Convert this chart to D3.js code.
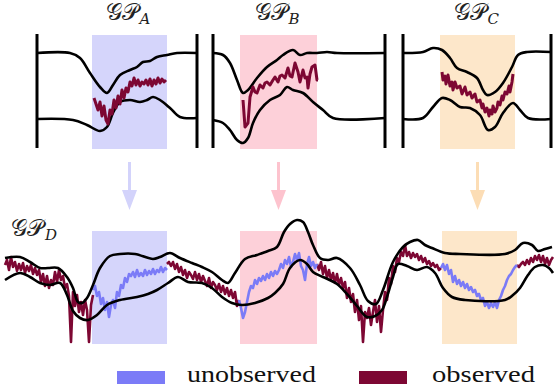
<!DOCTYPE html>
<html><head><meta charset="utf-8">
<script src="https://cdn.jsdelivr.net/npm/d3@7"></script>
<style>body{margin:0;background:#fff;overflow:hidden}</style></head>
<body><svg id="c" width="557" height="388"></svg>
<script>
// ---------- DATA ----------
// Top GP panels: [time, value] for upper/lower credible bands, observed sample
const gpAUpper = [[0,97],[33,97],[43,92],[53,77],[63,63],[70,57],[76,65],[83,75],[93,80],[100,83],[106,88],[113,89],[120,93],[130,95],[140,97],[160,97]];
const gpALower = [[0,31],[36,30],[50,25],[63,19],[70,23],[76,37],[83,48],[93,50],[103,48],[110,50],[116,53],[123,50],[133,42],[143,33],[160,32]];
const gpAObsStart = 57;
const gpAObs = [52,46,40,48,34,44,30,26,40,36,50,42,54,46,60,52,62,58,68,64,72,65,70,64,68,66,70,65,71,64,70,66,72,67,71,68,70];

const gpBUpper = [[0,97],[10,95],[17,87],[24,70],[30,57],[35,60],[44,72],[54,83],[64,90],[70,95],[80,100],[87,95],[94,97],[104,97],[114,98],[124,97],[172,97]];
const gpBLower = [[0,30],[10,27],[17,20],[24,10],[30,7],[35,12],[40,27],[47,40],[57,50],[67,55],[74,63],[80,60],[90,57],[100,48],[110,40],[120,32],[172,32]];
const gpBObs = [[30,50],[32,23],[35,27],[37,53],[40,63],[42,58],[44,57],[47,65],[50,62],[52,67],[54,68],[57,65],[60,70],[62,73],[65,68],[67,74],[69,75],[72,72],[75,82],[77,74],[79,73],[82,87],[85,78],[87,68],[90,80],[92,72],[94,73],[95,62],[97,76],[99,83],[102,85],[104,70],[105,70]];

const gpCUpper = [[0,97],[20,98],[30,102],[39,100],[47,92],[54,82],[64,78],[74,72],[80,60],[84,55],[92,58],[100,67],[109,83],[115,95],[124,98],[148,98]];
const gpCLower = [[0,31],[20,32],[30,43],[39,52],[47,50],[57,43],[67,42],[77,35],[85,20],[92,23],[100,37],[110,47],[117,40],[125,32],[148,31]];
const gpCObs = [[39,78],[40,70],[42,74],[43,66],[45,75],[47,64],[49,68],[50,60],[52,68],[54,62],[57,64],[59,56],[62,63],[64,55],[67,58],[69,52],[72,56],[74,48],[77,50],[79,42],[80,46],[82,38],[84,42],[86,34],[87,40],[89,36],[90,44],[92,38],[94,42],[95,48],[97,45],[99,54],[100,50],[102,58],[104,56],[106,64],[107,58],[109,68],[110,76]];

// Top panel windows (time) of missing data
const gpWindows = [[55,130],[27,104],[37,112]];

// Combined GP_D
const gpDUpper = [[0,42],[15,43],[25,38],[35,32],[43,32],[53,32],[62,23],[68,12],[73,-2],[77,-3],[82,2],[88,15],[95,32],[105,44],[115,46],[130,46],[148,41],[155,43],[165,47],[175,42],[187,37],[197,33],[207,28],[217,20],[223,17],[230,27],[240,41],[252,45],[263,49],[272,53],[279,68],[285,76],[292,80],[298,78],[303,68],[308,55],[315,42],[323,40],[332,42],[345,32],[355,15],[363,-1],[371,-4],[378,10],[388,38],[398,53],[405,58],[413,60],[420,55],[427,52],[440,47],[455,46],[500,46],[510,50],[518,57],[527,55],[533,49],[540,51],[547,53]];
const gpDLower = [[0,20],[15,27],[25,23],[35,17],[45,15],[55,17],[62,5],[68,-11],[75,-18],[83,-20],[92,-15],[102,-5],[115,0],[132,3],[143,6],[152,10],[163,17],[173,23],[183,18],[197,17],[207,12],[217,3],[227,-3],[237,-5],[250,-3],[263,2],[270,7],[278,16],[285,32],[295,40],[302,36],[308,28],[318,23],[332,16],[342,6],[352,-6],[362,-17],[370,-16],[377,-10],[382,3],[388,23],[393,36],[402,34],[412,30],[422,33],[430,27],[438,12],[447,3],[460,0],[500,0],[508,5],[515,12],[523,25],[530,33],[538,35],[544,32],[548,27]];

// series sampled every 2 time units from a start time
const obsD1Start = 0;
const obsD1 = [35,40,30,43,33,38,29,36,30,37,27,34,29,35,26,32,25,30,18,26,14,24,12,20,15,28,18,30,20,24,12,16,4,-42,8,-6,5,-12,-2,-15,0,-10,-42,-5,5];
const unobsD1Start = 88;
const unobsD1 = [10,14,4,8,-4,2,-10,-2,-17,-5,0,-8,8,4,15,12,22,18,26,24,28,23,30,24,27,24,30,25,29,26,31,26,30,28,33,28,32,30];
const obsD2Start = 162;
const obsD2 = [36,38,34,38,31,36,28,33,25,30,22,28,25,21,28,20,26,18,24,19,14,22,12,18,15,10,16,8,14,6,12,4,10,2,8,-6,0];
const unobsD2Start = 234;
const unobsD2 = [0,-8,-18,-12,-2,8,14,12,20,16,22,19,24,20,26,22,28,24,29,26,30,36,32,40,36,43,33,38,46,40,47,34,30,20,36,43,34,38,32,36];
const obsD3Start = 312;
const obsD3 = [36,30,38,26,34,22,30,20,27,17,26,15,22,12,18,2,12,-2,6,-12,0,-20,-6,-42,-12,-18,-8,-25,-12,0,-22,-6,-32,-10,8,0,22,16,34,28,42,38,48,44,55,44,48,42,47,43,46,40,44,38,42,36,39,34,37,33,35,30,32];
const unobsD3Start = 436;
const unobsD3 = [32,36,30,35,26,30,18,24,16,20,14,18,12,16,10,13,8,10,4,6,0,2,-6,-2,-8,-3,-7,-2,-8,0,4,10,14,20,24,26,30,33,35];
const obsD4Start = 512;
const obsD4 = [35,33,36,38,35,40,36,42,38,44,40,45,38,44,36,42,35,40,43];

const gpDWindows = [[87,162],[235,312],[437,512]];

const titles = ["A","B","C"];
const legendLabels = ["unobserved","observed"];

// ---------- STYLE / LAYOUT ----------
const fills = ["#d5d5fb","#fdd0d9","#fde7ca"];
const arrowFills = ["#d3d3fb","#fdc3ce","#fcddb5"];
const blue = "#7b7bf7", red = "#7d0733";
const svg = d3.select("#c");

const topPanels = [
  {x0:37, x1:197, upper:gpAUpper, lower:gpALower, obs:gpAObs.map((v,i)=>[gpAObsStart+2*i,v])},
  {x0:213, x1:385, upper:gpBUpper, lower:gpBLower, obs:gpBObs},
  {x0:403, x1:551, upper:gpCUpper, lower:gpCLower, obs:gpCObs}
];
const yTop = d3.scaleLinear().domain([0,120]).range([150,30]);

function gpTitle(g, x, y, sub){
  const tt = g.append("text").attr("x",x).attr("y",y).attr("font-family","DejaVu Serif, serif")
    .attr("font-size",23).attr("fill","#222");
  tt.append("tspan").text("𝒢𝒫");
  tt.append("tspan").attr("dy",4).attr("dx",1).attr("font-size",15).attr("font-style","italic")
    .attr("font-family","DejaVu Serif, serif").text(sub);
}

topPanels.forEach((p,k)=>{
  const dom = [0, d3.max(p.upper, d=>d[0])];
  const x = d3.scaleLinear().domain(dom).range([p.x0,p.x1]);
  const g = svg.append("g");
  const w = gpWindows[k];
  g.append("rect").attr("x",x(w[0])).attr("width",x(w[1])-x(w[0]))
    .attr("y",yTop(115)).attr("height",yTop(1)-yTop(115)).attr("fill",fills[k]);
  const smooth = d3.line().x(d=>x(d[0])).y(d=>yTop(d[1])).curve(d3.curveCatmullRom.alpha(0.5));
  [p.upper,p.lower].forEach(s=>g.append("path").attr("d",smooth(s)).attr("fill","none")
    .attr("stroke","#000").attr("stroke-width",2.6).attr("stroke-linejoin","round"));
  const lin = d3.line().x(d=>x(d[0])).y(d=>yTop(d[1]));
  g.append("path").attr("d",lin(p.obs)).attr("fill","none").attr("stroke",red)
    .attr("stroke-width",3).attr("stroke-linejoin","round");
  dom.forEach(t=>g.append("line").attr("x1",x(t)).attr("x2",x(t)).attr("y1",yTop(116)).attr("y2",yTop(2))
    .attr("stroke","#000").attr("stroke-width",3));
  const cx = x((w[0]+w[1])/2);
  gpTitle(g, cx-24, 20, titles[k]);
  // arrow
  g.append("line").attr("x1",cx).attr("x2",cx).attr("y1",162).attr("y2",195).attr("stroke",arrowFills[k]).attr("stroke-width",3);
  g.append("path").attr("d",`M${cx-7.5},190 L${cx+7.5},190 L${cx},210 Z`).attr("fill",arrowFills[k]);
});

// bottom panel
const xD = d3.scaleLinear().domain([0,546]).range([5,551]);
const yD = d3.scaleLinear().domain([-50,80]).range([350,220]);
const gD = svg.append("g");
gpDWindows.forEach((w,k)=>{
  gD.append("rect").attr("x",xD(w[0])).attr("width",xD(w[1])-xD(w[0]))
    .attr("y",yD(69)).attr("height",yD(-44)-yD(69)).attr("fill",fills[k]);
});
const linD = d3.line().x(d=>xD(d[0])).y(d=>yD(d[1]));
const seq = (start, vals)=>vals.map((v,i)=>[start+2*i, v]);
[[obsD1Start,obsD1],[obsD2Start,obsD2],[obsD3Start,obsD3],[obsD4Start,obsD4]].forEach(([s,v])=>
  gD.append("path").attr("d",linD(seq(s,v))).attr("fill","none").attr("stroke",red).attr("stroke-width",2.6).attr("stroke-linejoin","round"));
[[unobsD1Start,unobsD1],[unobsD2Start,unobsD2],[unobsD3Start,unobsD3]].forEach(([s,v])=>
  gD.append("path").attr("d",linD(seq(s,v))).attr("fill","none").attr("stroke",blue).attr("stroke-width",2.6).attr("stroke-linejoin","round"));
const smoothD = d3.line().x(d=>xD(d[0])).y(d=>yD(d[1])).curve(d3.curveCatmullRom.alpha(0.5));
[gpDUpper,gpDLower].forEach(s=>gD.append("path").attr("d",smoothD(s)).attr("fill","none")
  .attr("stroke","#000").attr("stroke-width",2.6).attr("stroke-linejoin","round"));
gpTitle(gD, 11, 236, "D");

// legend
const lg = svg.append("g");
[[117,blue,187,129],[359,red,432,103]].forEach(([x0,c,tx,len],i)=>{
  lg.append("rect").attr("x",x0).attr("y",371).attr("width",48).attr("height",13).attr("fill",c);
  lg.append("text").attr("x",tx).attr("y",382).attr("font-family","Liberation Serif, serif").attr("font-size",24)
    .attr("textLength",len).attr("lengthAdjust","spacingAndGlyphs").attr("fill","#111").text(legendLabels[i]);
});
</script></body></html>
